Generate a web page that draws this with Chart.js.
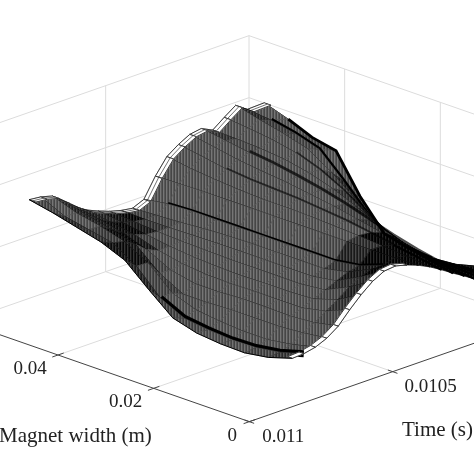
<!DOCTYPE html>
<html>
<head>
<meta charset="utf-8">
<script src="https://cdn.jsdelivr.net/npm/chart.js@4"></script>
<style>
  html, body { margin: 0; padding: 0; background: #fff; }
  canvas { display: block; }
</style>
</head>
<body>
<canvas id="c" width="474" height="474"></canvas>
<script>
// values, z has no visible labels so it is in grid steps
const widths = [0.055, 0.05, 0.045, 0.04, 0.035, 0.03, 0.025, 0.02, 0.015, 0.01, 0.005, 0];
const times = [0.01085, 0.01081, 0.01077, 0.01073, 0.01069, 0.01065, 0.01061, 0.01057, 0.01053, 0.01049, 0.01045,
  0.01041, 0.01037, 0.01033, 0.01029, 0.01025, 0.01021, 0.01017, 0.01013, 0.01009, 0.01003];
const surface = [
  [1.86, 1.78, 1.68, 1.58, 1.42, 1.08, 0.76, 0.65, 0.61, 0.60, 0.66, 0.78],
  [1.84, 1.66, 1.58, 1.50, 1.26, 0.88, 0.69, 0.64, 0.61, 0.62, 0.68, 0.79],
  [1.79, 1.65, 1.57, 1.46, 1.25, 0.90, 0.76, 0.71, 0.68, 0.68, 0.74, 0.83],
  [1.64, 1.54, 1.45, 1.35, 1.02, 0.81, 0.81, 0.83, 0.83, 0.83, 0.86, 0.91],
  [1.49, 1.42, 1.33, 1.20, 1.00, 0.92, 0.92, 0.94, 0.94, 0.93, 0.96, 1.04],
  [1.37, 1.31, 1.24, 1.12, 1.04, 1.00, 0.99, 1.00, 1.00, 1.00, 1.08, 1.24],
  [1.29, 1.24, 1.18, 1.12, 1.08, 1.06, 1.05, 1.06, 1.06, 1.08, 1.20, 1.42],
  [1.22, 1.19, 1.16, 1.14, 1.13, 1.12, 1.12, 1.12, 1.12, 1.16, 1.34, 1.57],
  [1.17, 1.16, 1.16, 1.17, 1.18, 1.18, 1.18, 1.18, 1.18, 1.24, 1.44, 1.67],
  [1.14, 1.16, 1.18, 1.21, 1.23, 1.24, 1.24, 1.24, 1.24, 1.32, 1.50, 1.69],
  [1.22, 1.28, 1.30, 1.30, 1.30, 1.30, 1.30, 1.30, 1.30, 1.36, 1.50, 1.64],
  [1.53, 1.54, 1.55, 1.55, 1.55, 1.55, 1.55, 1.55, 1.55, 1.55, 1.56, 1.57],
  [1.78, 1.72, 1.68, 1.65, 1.63, 1.63, 1.62, 1.60, 1.58, 1.55, 1.52, 1.48],
  [1.91, 1.85, 1.78, 1.74, 1.72, 1.70, 1.66, 1.62, 1.56, 1.50, 1.44, 1.37],
  [2.01, 1.94, 1.87, 1.82, 1.78, 1.72, 1.66, 1.58, 1.50, 1.42, 1.33, 1.25],
  [2.04, 1.98, 1.92, 1.87, 1.80, 1.72, 1.62, 1.50, 1.38, 1.28, 1.20, 1.14],
  [1.95, 1.94, 1.92, 1.88, 1.80, 1.68, 1.52, 1.35, 1.20, 1.12, 1.06, 1.02],
  [2.09, 2.05, 2.00, 1.92, 1.78, 1.58, 1.32, 1.10, 1.00, 0.98, 0.96, 0.94],
  [2.22, 2.12, 2.03, 1.92, 1.68, 1.38, 1.08, 0.90, 0.85, 0.87, 0.87, 0.86],
  [2.09, 2.05, 1.97, 1.85, 1.48, 1.08, 0.82, 0.72, 0.72, 0.76, 0.78, 0.78],
  [2.10, 1.97, 1.81, 1.73, 1.13, 0.67, 0.57, 0.54, 0.57, 0.67, 0.75, 0.78]
];
const widthTicks = [0, 0.02, 0.04];
const widthTickLabels = ['0', '0.02', '0.04'];
const timeTicks = [0.011, 0.0105];
const timeTickLabels = ['0.011', '0.0105'];
const zGrid = [0, 1, 2, 3];
const widthMax = 0.06;
const timeMin = 0.01;
const timeMax = 0.011;

// orthographic view fitted to the box in the picture
function project(w, t, z) {
  const u = w / 0.02;
  const v = (timeMax - t) / 0.0005;
  return {
    x: (748 - 287 * u + 430 * v) / 3,
    y: (1265 - 100 * u - 150 * v - 186 * z) / 3
  };
}

const datasets = [];

function addLine(points, color, width) {
  datasets.push({ data: points, showLine: true, borderColor: color, borderWidth: width, pointRadius: 0, fill: false });
}

function addCell(points, fillStyle, color) {
  datasets.push({
    data: points.concat([points[0]]), showLine: true, borderColor: color, borderWidth: 0.6,
    backgroundColor: fillStyle, pointRadius: 0, fill: 'shape'
  });
}

function area(p) {
  let s = 0;
  for (let i = 0; i < p.length; i++) {
    const q = p[(i + 1) % p.length];
    s += p[i].x * q.y - q.x * p[i].y;
  }
  return Math.abs(s) / 2;
}

function rowPoints(r) {
  return widths.map((w, c) => project(w, times[r], surface[r][c]));
}

// shading only: the mesh lines are denser around these spots of the picture
function foldShade(x, y) {
  const left = 1 - 0.7 * Math.exp(-Math.pow((x - 128) / 20, 2)) * (y > 215 ? 1 : 0);
  const right = 1 - 0.5 * Math.exp(-Math.pow((x - 355) / 18, 2)) * (y > 235 ? 1 : 0);
  const tail = x > 375 ? 0.2 : 1;
  return left * right * tail;
}

// fine mesh hatch, one stripe tile per grey level
const hatchCache = {};
function hatch(g) {
  if (hatchCache[g]) return hatchCache[g];
  const tile = document.createElement('canvas');
  tile.width = 3;
  tile.height = 1;
  const t = tile.getContext('2d');
  [g - 22, g + 26, g - 4].forEach((v, i) => {
    const k = Math.max(0, v);
    t.fillStyle = 'rgb(' + k + ',' + k + ',' + k + ')';
    t.fillRect(i, 0, 1, 1);
  });
  hatchCache[g] = t.createPattern(tile, 'repeat');
  return hatchCache[g];
}

// box
const gridColor = '#dcdcdc';
zGrid.forEach(z => {
  if (z > 0) {
    addLine([project(widthMax, timeMax, z), project(widthMax, timeMin, z), project(0, timeMin, z)], gridColor, 1);
  }
});
addLine([project(widthMax, timeMax, 0), project(widthMax, timeMin, 0), project(0, timeMin, 0)], gridColor, 1);
addLine([project(widthMax, timeMin, 0), project(widthMax, timeMin, 3)], gridColor, 1);
addLine([project(widthMax, 0.0105, 0), project(widthMax, 0.0105, 3)], gridColor, 1);
addLine([project(0, 0.0105, 0), project(widthMax, 0.0105, 0)], gridColor, 1);
[0.02, 0.04].forEach(w => {
  addLine([project(w, timeMax, 0), project(w, timeMin, 0)], gridColor, 1);
  addLine([project(w, timeMin, 0), project(w, timeMin, 3)], gridColor, 1);
});

// axes and ticks
addLine([project(widthMax, timeMax, 0), project(0, timeMax, 0), project(0, timeMin, 0)], '#444', 1);
widthTicks.forEach(w => addLine([project(w, timeMax + 0.00002, 0), project(w, timeMax - 0.00002, 0)], '#444', 1));
timeTicks.forEach(t => addLine([project(-0.001, t, 0), project(0.001, t, 0)], '#444', 1));

// surface, back rows first so the front ones cover them
const topWidth = 0.0014;
const lowWidth = 0.001;
// [row, first column, last column, line width, colour] for the dark bands of piled up mesh lines
const bands = [
  [1, 5, 11, 7, '#000'],
  [10, 1, 10, 4, '#000'],
  [13, 2, 9, 4, 'rgba(0,0,0,0.6)'],
  [15, 2, 10, 6, 'rgba(0,0,0,0.7)'],
  [17, 3, 8, 3.5, 'rgba(0,0,0,0.6)'],
  [19, 1, 6, 5, '#000']
];
for (let r = times.length - 1; r >= 0; r--) {
  if (r < times.length - 1) {
    for (let c = 0; c < widths.length - 1; c++) {
      const quad = [
        project(widths[c], times[r], surface[r][c]),
        project(widths[c + 1], times[r], surface[r][c + 1]),
        project(widths[c + 1], times[r + 1], surface[r + 1][c + 1]),
        project(widths[c], times[r + 1], surface[r + 1][c])
      ];
      const mid = { x: (quad[0].x + quad[2].x) / 2, y: (quad[0].y + quad[2].y) / 2 };
      const g = Math.round((24 + 68 * Math.min(1, area(quad) / 220)) * foldShade(mid.x, mid.y));
      addCell(quad, hatch(g), 'rgb(' + g + ',' + g + ',' + g + ')');
    }
    widths.forEach((w, c) => {
      addLine([project(w, times[r], surface[r][c]), project(w, times[r + 1], surface[r + 1][c])], 'rgba(0,0,0,0.2)', 0.6);
    });
    // white ribbon along the two edges
    const ribbon = [
      project(widths[0], times[r], surface[r][0]),
      project(widths[0] - topWidth, times[r], surface[r][0]),
      project(widths[0] - topWidth, times[r + 1], surface[r + 1][0]),
      project(widths[0], times[r + 1], surface[r + 1][0])
    ];
    addCell(ribbon, '#fff', '#fff');
    addLine(ribbon.concat([ribbon[0]]), '#111', 0.8);
    addLine([project(widths[0] - topWidth / 2, times[r], surface[r][0]), project(widths[0] - topWidth / 2, times[r + 1], surface[r + 1][0])], '#111', 0.6);
    if (r < 10) {
      const last = widths.length - 1;
      const low = [
        project(0, times[r], surface[r][last]),
        project(lowWidth, times[r], surface[r][last]),
        project(lowWidth, times[r + 1], surface[r + 1][last]),
        project(0, times[r + 1], surface[r + 1][last])
      ];
      addCell(low, '#fff', '#fff');
      addLine(low.concat([low[0]]), '#111', 0.8);
    }
  }
  addLine(rowPoints(r), '#000', 1);
  bands.filter(b => b[0] === r).forEach(b => addLine(rowPoints(r).slice(b[1], b[2] + 1), b[4], b[3]));
}
// dark fold along the far edge of the last row
const farRow = times.length - 1;
addLine(rowPoints(farRow).slice(1, 8), '#000', 2.8);
// the rows pile up into the black tail on the right
for (let r = 13; r <= farRow; r++) {
  addLine(rowPoints(r).slice(9), '#000', 2.2);
}

const labelPlugin = {
  id: 'labels',
  afterDraw(chart) {
    const ctx = chart.ctx;
    const sx = chart.scales.x;
    const sy = chart.scales.y;
    ctx.save();
    ctx.fillStyle = '#222';
    ctx.font = '19px "Liberation Serif"';
    ctx.textBaseline = 'alphabetic';
    ctx.textAlign = 'center';
    const at = (p, dx, dy, text) => ctx.fillText(text, sx.getPixelForValue(p.x) + dx, sy.getPixelForValue(p.y) + dy);
    widthTicks.forEach((w, i) => at(project(w, timeMax, 0), i === 0 ? -17 : -28, 19, widthTickLabels[i]));
    timeTicks.forEach((t, i) => at(project(0, t, 0), i === 0 ? 34 : 38, 20, timeTickLabels[i]));
    ctx.textAlign = 'left';
    ctx.font = '21px "Liberation Serif"';
    ctx.fillText('Magnet width (m)', sx.getPixelForValue(-1), sy.getPixelForValue(442));
    ctx.fillText('Time (s)', sx.getPixelForValue(402), sy.getPixelForValue(436));
    ctx.restore();
  }
};

new Chart(document.getElementById('c'), {
  type: 'scatter',
  data: { datasets: datasets.reverse() },
  options: {
    responsive: false,
    animation: false,
    layout: { padding: 0 },
    plugins: { legend: { display: false }, tooltip: { enabled: false } },
    elements: { line: { tension: 0 } },
    scales: {
      x: { type: 'linear', min: 0, max: 474, display: false },
      y: { type: 'linear', min: 0, max: 474, reverse: true, display: false }
    }
  },
  plugins: [labelPlugin]
});
</script>
</body>
</html>
